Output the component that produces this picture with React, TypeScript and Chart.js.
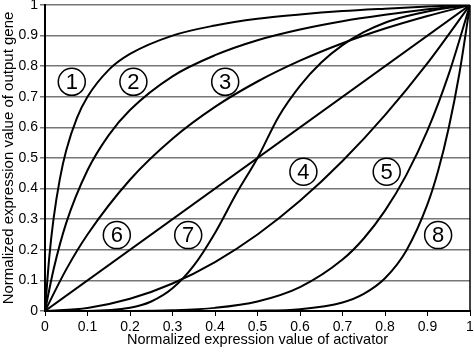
import React, { useEffect, useRef } from 'react';
import { Chart, registerables } from 'chart.js';

Chart.register(...registerables);

// Curve data (x = activator, y = output gene)
const curve1X = [0, 0.01, 0.02, 0.035, 0.05, 0.075, 0.1, 0.15, 0.2, 0.3, 0.4, 0.5, 0.6, 0.7, 0.8, 0.9, 1];
const curve1Y = [0, 0.175, 0.3, 0.432, 0.525, 0.63, 0.7, 0.788, 0.84, 0.9, 0.933, 0.955, 0.969, 0.98, 0.988, 0.995, 1];

const curve2X = [0, 0.02, 0.05, 0.1, 0.15, 0.2, 0.3, 0.4, 0.5, 0.6, 0.7, 0.8, 0.9, 1];
const curve2Y = [0, 0.135, 0.288, 0.46, 0.575, 0.657, 0.767, 0.836, 0.885, 0.92, 0.947, 0.968, 0.986, 1];

const curve3X = [0, 0.05, 0.1, 0.2, 0.3, 0.4, 0.5, 0.6, 0.7, 0.8, 0.9, 1];
const curve3Y = [0, 0.136, 0.25, 0.429, 0.563, 0.667, 0.75, 0.818, 0.875, 0.923, 0.964, 1];

const curve6X = [0, 1];
const curve6Y = [0, 1];

const curve4X = [0, 0.1, 0.2, 0.3, 0.4, 0.5, 0.6, 0.7, 0.8, 0.9, 1];
const curve4Y = [0, 0.01, 0.04, 0.09, 0.16, 0.25, 0.36, 0.49, 0.64, 0.81, 1];

const curve5X = [0, 0.2, 0.3, 0.4, 0.5, 0.6, 0.7, 0.75, 0.8, 0.85, 0.9, 0.95, 1];
const curve5Y = [0, 0.0003, 0.0024, 0.0102, 0.031, 0.078, 0.168, 0.237, 0.328, 0.444, 0.59, 0.774, 1];

const curve8X = [0, 0.4, 0.5, 0.6, 0.7, 0.75, 0.8, 0.85, 0.9, 0.925, 0.95, 0.975, 1];
const curve8Y = [0, 0.0001, 0.001, 0.006, 0.028, 0.056, 0.107, 0.197, 0.349, 0.458, 0.599, 0.776, 1];

const curve7X = [0, 0.1, 0.2, 0.25, 0.3, 0.35, 0.4, 0.45, 0.5, 0.55, 0.6, 0.65, 0.7, 0.75, 0.8, 0.85, 0.9, 0.95, 1];
const curve7Y = [0, 0.0003, 0.0105, 0.031, 0.074, 0.148, 0.255, 0.383, 0.5, 0.636, 0.736, 0.812, 0.869, 0.911, 0.942, 0.963, 0.979, 0.991, 1];

// Circled curve labels
const labelTexts = ['1', '2', '3', '4', '5', '6', '7', '8'];
const labelX = [0.063, 0.208, 0.424, 0.608, 0.804, 0.169, 0.337, 0.925];
const labelY = [0.749, 0.749, 0.749, 0.455, 0.455, 0.248, 0.248, 0.248];

const xTickLabels = ['0', '0.1', '0.2', '0.3', '0.4', '0.5', '0.6', '0.7', '0.8', '0.9', '1'];
const yTickLabels = ['0', '0.1', '0.2', '0.3', '0.4', '0.5', '0.6', '0.7', '0.8', '0.9', '1'];

const xTitle = 'Normalized expression value of activator';
const yTitle = 'Normalized expression value of output gene';

const FONT = "'Liberation Sans', Arial, sans-serif";

function pts(xs: number[], ys: number[]) {
  return xs.map((x, i) => ({ x, y: ys[i] }));
}

const overlayPlugin = {
  id: 'overlay',
  afterDatasetsDraw(chart: any) {
    const { ctx, chartArea, scales } = chart;
    ctx.save();
    // right border
    ctx.strokeStyle = '#000';
    ctx.lineWidth = 1.5;
    ctx.beginPath();
    ctx.moveTo(chartArea.right, chartArea.top);
    ctx.lineTo(chartArea.right, chartArea.bottom);
    ctx.stroke();
    // circled labels
    for (let i = 0; i < labelTexts.length; i++) {
      const px = scales.x.getPixelForValue(labelX[i]);
      const py = scales.y.getPixelForValue(labelY[i]);
      ctx.beginPath();
      ctx.arc(px, py, 13.5, 0, Math.PI * 2);
      ctx.fillStyle = '#fff';
      ctx.fill();
      ctx.lineWidth = 1.5;
      ctx.strokeStyle = '#000';
      ctx.stroke();
      ctx.fillStyle = '#000';
      ctx.font = `22px ${FONT}`;
      ctx.textAlign = 'center';
      ctx.textBaseline = 'middle';
      ctx.fillText(labelTexts[i], px, py + 1);
    }
    ctx.restore();
  },
};

export default function App() {
  const canvasRef = useRef<HTMLCanvasElement | null>(null);

  useEffect(() => {
    if (!canvasRef.current) return;
    Chart.defaults.color = '#000';
    const series = [
      pts(curve1X, curve1Y),
      pts(curve2X, curve2Y),
      pts(curve3X, curve3Y),
      pts(curve6X, curve6Y),
      pts(curve4X, curve4Y),
      pts(curve7X, curve7Y),
      pts(curve5X, curve5Y),
      pts(curve8X, curve8Y),
    ];
    const chart = new Chart(canvasRef.current, {
      type: 'scatter',
      data: {
        datasets: series.map((d) => ({
          data: d,
          showLine: true,
          borderColor: '#000',
          backgroundColor: '#000',
          borderWidth: 2,
          pointRadius: 0,
          cubicInterpolationMode: 'monotone' as const,
          fill: false,
        })),
      },
      options: {
        animation: false,
        responsive: false,
        devicePixelRatio: 1,
        layout: { padding: { top: 5, right: 4, left: 0, bottom: 0 } },
        plugins: { legend: { display: false }, tooltip: { enabled: false } },
        events: [],
        scales: {
          x: {
            type: 'linear',
            min: 0,
            max: 1,
            ticks: {
              stepSize: 0.1,
              padding: 3,
              color: '#000',
              font: { family: FONT, size: 14 },
              callback: (_v: any, i: number) => xTickLabels[i],
              maxRotation: 0,
            },
            grid: { drawOnChartArea: false, tickLength: 5, color: '#000', lineWidth: 1 },
            border: { color: '#000', width: 2 },
            title: {
              display: true,
              text: xTitle,
              color: '#000',
              font: { family: FONT, size: 14.5 },
              padding: { top: 0, bottom: 4 },
            },
            afterFit: (s: any) => {
              s.height = 42;
              s.paddingLeft = 0;
              s.paddingRight = 0;
            },
          },
          y: {
            type: 'linear',
            min: 0,
            max: 1,
            ticks: {
              stepSize: 0.1,
              padding: 2,
              color: '#000',
              font: { family: FONT, size: 14 },
              callback: (_v: any, i: number) => yTickLabels[i],
            },
            grid: { color: '#777', lineWidth: 1.5, tickLength: 5 },
            border: { color: '#000', width: 2 },
            title: {
              display: true,
              text: yTitle,
              color: '#000',
              font: { family: FONT, size: 15 },
              padding: { top: 0, bottom: 0 },
            },
            afterFit: (s: any) => {
              s.width = 45;
              s.paddingTop = 0;
              s.paddingBottom = 0;
            },
          },
        },
      },
      plugins: [overlayPlugin],
    } as any);
    return () => chart.destroy();
  }, []);

  return (
    <div style={{ position: 'absolute', left: 0, top: 0, width: 474, height: 353, background: '#fff' }}>
      <canvas ref={canvasRef} width={474} height={353} style={{ width: 474, height: 353, display: 'block' }} />
    </div>
  );
}
